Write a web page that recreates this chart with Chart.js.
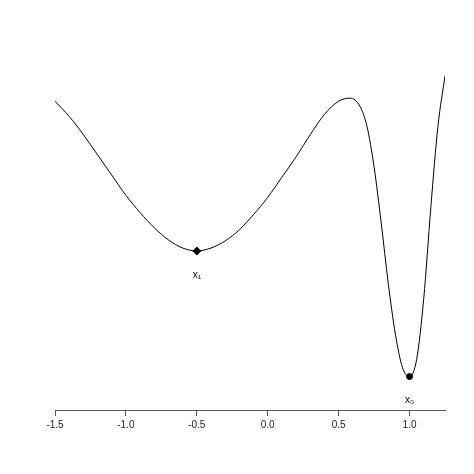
<!DOCTYPE html>
<html>
<head>
<meta charset="utf-8">
<script src="https://cdn.jsdelivr.net/npm/chart.js@4"></script>
<style>
  html, body { margin: 0; padding: 0; background: #fff; }
  #wrap { width: 474px; height: 474px; }
</style>
</head>
<body>
<div id="wrap"><canvas id="c"></canvas></div>
<script>
// curve (x, height)
const xs = [-1.5, -1.4, -1.3, -1.2, -1.1, -1.0, -0.9, -0.8, -0.7, -0.6, -0.5, -0.4, -0.3, -0.2, -0.1, 0.0,
            0.1, 0.2, 0.3, 0.4, 0.5, 0.58, 0.65, 0.7, 0.75, 0.8, 0.85, 0.9, 0.95, 1.0, 1.05, 1.1, 1.15, 1.2, 1.25];
const ys = [3.05, 2.90, 2.72, 2.52, 2.32, 2.12, 1.95, 1.80, 1.68, 1.60, 1.57, 1.60, 1.67, 1.78, 1.93, 2.10,
            2.30, 2.50, 2.72, 2.92, 3.05, 3.08, 3.00, 2.80, 2.40, 1.85, 1.25, 0.75, 0.42, 0.33, 0.50, 1.10, 2.00, 2.80, 3.30];
const minima = [
  { x: -0.5, y: 1.57, label: 'x\u2081', style: 'rectRot' },
  { x: 1.0, y: 0.33, label: 'x\u2080', style: 'circle' }
];

const labelPlugin = {
  id: 'minLabels',
  afterDatasetsDraw(chart) {
    const ctx = chart.ctx;
    const sx = chart.scales.x, sy = chart.scales.y;
    ctx.save();
    ctx.fillStyle = '#000';
    ctx.font = '10px "Liberation Sans", Arial, sans-serif';
    ctx.textAlign = 'center';
    ctx.textBaseline = 'middle';
    minima.forEach(m => ctx.fillText(m.label, sx.getPixelForValue(m.x), sy.getPixelForValue(m.y) + 24));
    ctx.restore();
  }
};

new Chart(document.getElementById('c').getContext('2d'), {
  type: 'line',
  data: {
    datasets: [{
      data: xs.map((x, i) => ({ x: x, y: ys[i] })),
      borderColor: '#000',
      borderWidth: 1,
      pointRadius: 0,
      cubicInterpolationMode: 'monotone'
    }, {
      data: minima.map(m => ({ x: m.x, y: m.y })),
      showLine: false,
      pointStyle: minima.map(m => m.style),
      pointRadius: [4, 3],
      backgroundColor: '#000',
      borderColor: '#000'
    }]
  },
  options: {
    responsive: true,
    maintainAspectRatio: false,
    animation: false,
    layout: { padding: { left: 55, right: 29, top: 4, bottom: 40 } },
    plugins: { legend: { display: false }, tooltip: { enabled: false } },
    scales: {
      x: {
        type: 'linear', min: -1.5, max: 1.25,
        border: { display: true, color: '#555' },
        grid: { drawOnChartArea: false, drawTicks: true, tickLength: 6, color: '#555' },
        ticks: {
          stepSize: 0.5, includeBounds: false, maxRotation: 0,
          color: '#222', font: { family: '"Liberation Sans", Arial, sans-serif', size: 10 },
          callback: v => v.toFixed(1)
        }
      },
      y: { display: false, min: 0, max: 4 }
    }
  },
  plugins: [labelPlugin]
});
</script>
</body>
</html>
